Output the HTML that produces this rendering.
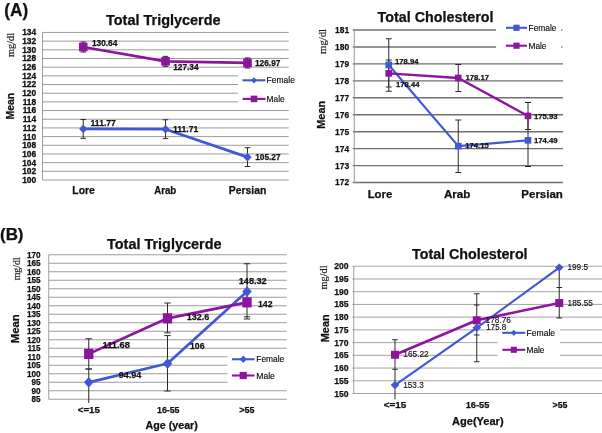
<!DOCTYPE html>
<html><head><meta charset="utf-8"><title>Figure</title>
<style>html,body{margin:0;padding:0;background:#fff}svg{display:block}</style></head>
<body><svg width="602" height="433" viewBox="0 0 602 433">
<rect width="602" height="433" fill="#fff"/>
<line x1="42.5" y1="180.00" x2="288.75" y2="180.00" stroke="#9c9c9c" stroke-width="1"/>
<line x1="42.5" y1="171.32" x2="288.75" y2="171.32" stroke="#9c9c9c" stroke-width="1"/>
<line x1="42.5" y1="162.64" x2="288.75" y2="162.64" stroke="#9c9c9c" stroke-width="1"/>
<line x1="42.5" y1="153.96" x2="288.75" y2="153.96" stroke="#9c9c9c" stroke-width="1"/>
<line x1="42.5" y1="145.28" x2="288.75" y2="145.28" stroke="#9c9c9c" stroke-width="1"/>
<line x1="42.5" y1="136.60" x2="288.75" y2="136.60" stroke="#9c9c9c" stroke-width="1"/>
<line x1="42.5" y1="127.92" x2="288.75" y2="127.92" stroke="#9c9c9c" stroke-width="1"/>
<line x1="42.5" y1="119.24" x2="288.75" y2="119.24" stroke="#9c9c9c" stroke-width="1"/>
<line x1="42.5" y1="110.56" x2="288.75" y2="110.56" stroke="#9c9c9c" stroke-width="1"/>
<line x1="42.5" y1="101.88" x2="288.75" y2="101.88" stroke="#9c9c9c" stroke-width="1"/>
<line x1="42.5" y1="93.20" x2="288.75" y2="93.20" stroke="#9c9c9c" stroke-width="1"/>
<line x1="42.5" y1="84.52" x2="288.75" y2="84.52" stroke="#9c9c9c" stroke-width="1"/>
<line x1="42.5" y1="75.84" x2="288.75" y2="75.84" stroke="#9c9c9c" stroke-width="1"/>
<line x1="42.5" y1="67.16" x2="288.75" y2="67.16" stroke="#9c9c9c" stroke-width="1"/>
<line x1="42.5" y1="58.48" x2="288.75" y2="58.48" stroke="#9c9c9c" stroke-width="1"/>
<line x1="42.5" y1="49.80" x2="288.75" y2="49.80" stroke="#9c9c9c" stroke-width="1"/>
<line x1="42.5" y1="41.12" x2="288.75" y2="41.12" stroke="#9c9c9c" stroke-width="1"/>
<line x1="42.5" y1="32.44" x2="288.75" y2="32.44" stroke="#9c9c9c" stroke-width="1"/>
<line x1="42.5" y1="32.44" x2="42.5" y2="180.0" stroke="#9c9c9c" stroke-width="1"/>
<text x="36.2" y="182.9" font-size="8.4" font-family="Liberation Sans, Arial, sans-serif" font-weight="bold" stroke="#111" stroke-width="0.3" text-anchor="end" fill="#111">100</text>
<text x="36.2" y="174.22" font-size="8.4" font-family="Liberation Sans, Arial, sans-serif" font-weight="bold" stroke="#111" stroke-width="0.3" text-anchor="end" fill="#111">102</text>
<text x="36.2" y="165.54" font-size="8.4" font-family="Liberation Sans, Arial, sans-serif" font-weight="bold" stroke="#111" stroke-width="0.3" text-anchor="end" fill="#111">104</text>
<text x="36.2" y="156.86" font-size="8.4" font-family="Liberation Sans, Arial, sans-serif" font-weight="bold" stroke="#111" stroke-width="0.3" text-anchor="end" fill="#111">106</text>
<text x="36.2" y="148.18" font-size="8.4" font-family="Liberation Sans, Arial, sans-serif" font-weight="bold" stroke="#111" stroke-width="0.3" text-anchor="end" fill="#111">108</text>
<text x="36.2" y="139.5" font-size="8.4" font-family="Liberation Sans, Arial, sans-serif" font-weight="bold" stroke="#111" stroke-width="0.3" text-anchor="end" fill="#111">110</text>
<text x="36.2" y="130.82" font-size="8.4" font-family="Liberation Sans, Arial, sans-serif" font-weight="bold" stroke="#111" stroke-width="0.3" text-anchor="end" fill="#111">112</text>
<text x="36.2" y="122.14000000000001" font-size="8.4" font-family="Liberation Sans, Arial, sans-serif" font-weight="bold" stroke="#111" stroke-width="0.3" text-anchor="end" fill="#111">114</text>
<text x="36.2" y="113.46000000000001" font-size="8.4" font-family="Liberation Sans, Arial, sans-serif" font-weight="bold" stroke="#111" stroke-width="0.3" text-anchor="end" fill="#111">116</text>
<text x="36.2" y="104.78" font-size="8.4" font-family="Liberation Sans, Arial, sans-serif" font-weight="bold" stroke="#111" stroke-width="0.3" text-anchor="end" fill="#111">118</text>
<text x="36.2" y="96.10000000000001" font-size="8.4" font-family="Liberation Sans, Arial, sans-serif" font-weight="bold" stroke="#111" stroke-width="0.3" text-anchor="end" fill="#111">120</text>
<text x="36.2" y="87.42000000000002" font-size="8.4" font-family="Liberation Sans, Arial, sans-serif" font-weight="bold" stroke="#111" stroke-width="0.3" text-anchor="end" fill="#111">122</text>
<text x="36.2" y="78.74000000000001" font-size="8.4" font-family="Liberation Sans, Arial, sans-serif" font-weight="bold" stroke="#111" stroke-width="0.3" text-anchor="end" fill="#111">124</text>
<text x="36.2" y="70.06" font-size="8.4" font-family="Liberation Sans, Arial, sans-serif" font-weight="bold" stroke="#111" stroke-width="0.3" text-anchor="end" fill="#111">126</text>
<text x="36.2" y="61.38" font-size="8.4" font-family="Liberation Sans, Arial, sans-serif" font-weight="bold" stroke="#111" stroke-width="0.3" text-anchor="end" fill="#111">128</text>
<text x="36.2" y="52.70000000000001" font-size="8.4" font-family="Liberation Sans, Arial, sans-serif" font-weight="bold" stroke="#111" stroke-width="0.3" text-anchor="end" fill="#111">130</text>
<text x="36.2" y="44.02" font-size="8.4" font-family="Liberation Sans, Arial, sans-serif" font-weight="bold" stroke="#111" stroke-width="0.3" text-anchor="end" fill="#111">132</text>
<text x="36.2" y="35.339999999999996" font-size="8.4" font-family="Liberation Sans, Arial, sans-serif" font-weight="bold" stroke="#111" stroke-width="0.3" text-anchor="end" fill="#111">134</text>
<text x="4.2" y="16.2" font-size="18" font-family="Liberation Sans, Arial, sans-serif" font-weight="bold" stroke="#111" stroke-width="0.25" textLength="24" lengthAdjust="spacingAndGlyphs" fill="#111">(A)</text>
<text x="106" y="25" font-size="14" font-family="Liberation Sans, Arial, sans-serif" font-weight="bold" stroke="#111" stroke-width="0.25" textLength="114.6" lengthAdjust="spacingAndGlyphs" fill="#111">Total Triglycerde</text>
<text x="13.9" y="119.4" font-size="10.4" font-family="Liberation Sans, Arial, sans-serif" font-weight="bold" stroke="#111" stroke-width="0.25" textLength="26.6" lengthAdjust="spacingAndGlyphs" transform="rotate(-90 13.9 119.4)" fill="#111">Mean</text>
<text x="14.1" y="56.9" font-size="10" font-family="Liberation Serif, Times New Roman, serif" textLength="24" lengthAdjust="spacingAndGlyphs" transform="rotate(-90 14.1 56.9)" stroke="#1e1e1e" stroke-width="0.2" fill="#1e1e1e">mg/dl</text>
<line x1="83.25" y1="119.51820000000001" x2="83.25" y2="138.31820000000002" stroke="#2a2a2a" stroke-width="1"/>
<line x1="80.45" y1="119.51820000000001" x2="86.05" y2="119.51820000000001" stroke="#2a2a2a" stroke-width="1"/>
<line x1="80.45" y1="138.31820000000002" x2="86.05" y2="138.31820000000002" stroke="#2a2a2a" stroke-width="1"/>
<line x1="165.5" y1="119.77860000000001" x2="165.5" y2="138.57860000000002" stroke="#2a2a2a" stroke-width="1"/>
<line x1="162.7" y1="119.77860000000001" x2="168.3" y2="119.77860000000001" stroke="#2a2a2a" stroke-width="1"/>
<line x1="162.7" y1="138.57860000000002" x2="168.3" y2="138.57860000000002" stroke="#2a2a2a" stroke-width="1"/>
<line x1="247.5" y1="147.72820000000002" x2="247.5" y2="166.52820000000003" stroke="#2a2a2a" stroke-width="1"/>
<line x1="244.7" y1="147.72820000000002" x2="250.3" y2="147.72820000000002" stroke="#2a2a2a" stroke-width="1"/>
<line x1="244.7" y1="166.52820000000003" x2="250.3" y2="166.52820000000003" stroke="#2a2a2a" stroke-width="1"/>
<line x1="83.25" y1="42.02240000000006" x2="83.25" y2="52.02240000000006" stroke="#2a2a2a" stroke-width="1"/>
<line x1="80.45" y1="42.02240000000006" x2="86.05" y2="42.02240000000006" stroke="#2a2a2a" stroke-width="1"/>
<line x1="80.45" y1="52.02240000000006" x2="86.05" y2="52.02240000000006" stroke="#2a2a2a" stroke-width="1"/>
<line x1="165.5" y1="56.34439999999999" x2="165.5" y2="66.3444" stroke="#2a2a2a" stroke-width="1"/>
<line x1="162.7" y1="56.34439999999999" x2="168.3" y2="56.34439999999999" stroke="#2a2a2a" stroke-width="1"/>
<line x1="162.7" y1="66.3444" x2="168.3" y2="66.3444" stroke="#2a2a2a" stroke-width="1"/>
<line x1="247.5" y1="57.95020000000001" x2="247.5" y2="67.95020000000001" stroke="#2a2a2a" stroke-width="1"/>
<line x1="244.7" y1="57.95020000000001" x2="250.3" y2="57.95020000000001" stroke="#2a2a2a" stroke-width="1"/>
<line x1="244.7" y1="67.95020000000001" x2="250.3" y2="67.95020000000001" stroke="#2a2a2a" stroke-width="1"/>
<polyline points="83.25,128.92 165.50,129.18 247.50,157.13" fill="none" stroke="#4258d2" stroke-width="2.7" stroke-linejoin="round"/>
<polyline points="83.25,47.02 165.50,61.34 247.50,62.95" fill="none" stroke="#8e149f" stroke-width="2.7" stroke-linejoin="round"/>
<polygon points="79.05,128.92 83.25,124.52 87.45,128.92 83.25,133.32" fill="#4258d2"/>
<polygon points="161.30,129.18 165.50,124.78 169.70,129.18 165.50,133.58" fill="#4258d2"/>
<polygon points="243.30,157.13 247.50,152.73 251.70,157.13 247.50,161.53" fill="#4258d2"/>
<rect x="78.95" y="42.72" width="8.6" height="8.6" fill="#8e149f"/>
<rect x="161.20" y="57.04" width="8.6" height="8.6" fill="#8e149f"/>
<rect x="243.20" y="58.65" width="8.6" height="8.6" fill="#8e149f"/>
<text x="91.9" y="46.25" font-size="8.8" font-family="Liberation Sans, Arial, sans-serif" font-weight="bold" stroke="#111" stroke-width="0.25" textLength="25.4" lengthAdjust="spacingAndGlyphs" fill="#111">130.64</text>
<text x="173.2" y="70.2" font-size="8.8" font-family="Liberation Sans, Arial, sans-serif" font-weight="bold" stroke="#111" stroke-width="0.25" textLength="25.4" lengthAdjust="spacingAndGlyphs" fill="#111">127.34</text>
<text x="255" y="66.25" font-size="8.8" font-family="Liberation Sans, Arial, sans-serif" font-weight="bold" stroke="#111" stroke-width="0.25" textLength="25.4" lengthAdjust="spacingAndGlyphs" fill="#111">126.97</text>
<text x="90.5" y="125.75" font-size="8.8" font-family="Liberation Sans, Arial, sans-serif" font-weight="bold" stroke="#111" stroke-width="0.25" textLength="25.4" lengthAdjust="spacingAndGlyphs" fill="#111">111.77</text>
<text x="172.9" y="132" font-size="8.8" font-family="Liberation Sans, Arial, sans-serif" font-weight="bold" stroke="#111" stroke-width="0.25" textLength="25.4" lengthAdjust="spacingAndGlyphs" fill="#111">111.71</text>
<text x="255.2" y="160" font-size="8.8" font-family="Liberation Sans, Arial, sans-serif" font-weight="bold" stroke="#111" stroke-width="0.25" textLength="25.4" lengthAdjust="spacingAndGlyphs" fill="#111">105.27</text>
<rect x="238" y="72" width="53" height="34" fill="#fff"/>
<line x1="242.5" y1="80.3" x2="265.5" y2="80.3" stroke="#4258d2" stroke-width="2.1"/>
<line x1="242.5" y1="98.9" x2="265.5" y2="98.9" stroke="#8e149f" stroke-width="2.1"/>
<polygon points="251.20,80.30 254.00,77.20 256.80,80.30 254.00,83.40" fill="#4258d2"/>
<rect x="250.70" y="95.60" width="6.6" height="6.6" fill="#8e149f"/>
<text x="266.6" y="83.3" font-size="8.4" font-family="Liberation Sans, Arial, sans-serif" fill="#000" stroke="#000" stroke-width="0.12" textLength="28.3" lengthAdjust="spacingAndGlyphs">Female</text>
<text x="266.6" y="101.9" font-size="8.4" font-family="Liberation Sans, Arial, sans-serif" fill="#000" stroke="#000" stroke-width="0.12" textLength="18" lengthAdjust="spacingAndGlyphs">Male</text>
<text x="83.6" y="193.75" font-size="10.3" font-family="Liberation Sans, Arial, sans-serif" font-weight="bold" stroke="#111" stroke-width="0.25" text-anchor="middle" textLength="22.6" lengthAdjust="spacingAndGlyphs" fill="#111">Lore</text>
<text x="165.25" y="193.75" font-size="10.2" font-family="Liberation Sans, Arial, sans-serif" font-weight="bold" stroke="#111" stroke-width="0.25" text-anchor="middle" textLength="22" lengthAdjust="spacingAndGlyphs" fill="#111">Arab</text>
<text x="247.5" y="193.75" font-size="10.2" font-family="Liberation Sans, Arial, sans-serif" font-weight="bold" stroke="#111" stroke-width="0.25" text-anchor="middle" textLength="37.5" lengthAdjust="spacingAndGlyphs" fill="#111">Persian</text>
<line x1="352.75" y1="148.65" x2="563" y2="148.65" stroke="#707070" stroke-width="1.4"/>
<line x1="352.75" y1="131.70" x2="563" y2="131.70" stroke="#707070" stroke-width="1.4"/>
<line x1="352.75" y1="114.75" x2="563" y2="114.75" stroke="#707070" stroke-width="1.4"/>
<line x1="352.75" y1="97.80" x2="563" y2="97.80" stroke="#707070" stroke-width="1.4"/>
<line x1="352.75" y1="80.85" x2="563" y2="80.85" stroke="#707070" stroke-width="1.4"/>
<line x1="352.75" y1="63.90" x2="563" y2="63.90" stroke="#707070" stroke-width="1.4"/>
<line x1="352.75" y1="182.55" x2="563" y2="182.55" stroke="#707070" stroke-width="1.4"/>
<line x1="352.75" y1="165.60" x2="563" y2="165.60" stroke="#707070" stroke-width="1.4"/>
<line x1="352.75" y1="46.95" x2="496" y2="46.95" stroke="#707070" stroke-width="1.4"/>
<line x1="352.75" y1="30.00" x2="496" y2="30.00" stroke="#707070" stroke-width="1.4"/>
<line x1="354.25" y1="30.0" x2="354.25" y2="182.54999999999998" stroke="#999" stroke-width="1"/>
<rect x="561" y="29.4" width="1.5" height="1.2" fill="#707070"/>
<rect x="561" y="46.4" width="1.5" height="1.2" fill="#707070"/>
<text x="349.1" y="185.45" font-size="8.4" font-family="Liberation Sans, Arial, sans-serif" font-weight="bold" stroke="#111" stroke-width="0.25" text-anchor="end" fill="#111">172</text>
<text x="349.1" y="168.5" font-size="8.4" font-family="Liberation Sans, Arial, sans-serif" font-weight="bold" stroke="#111" stroke-width="0.25" text-anchor="end" fill="#111">173</text>
<text x="349.1" y="151.54999999999998" font-size="8.4" font-family="Liberation Sans, Arial, sans-serif" font-weight="bold" stroke="#111" stroke-width="0.25" text-anchor="end" fill="#111">174</text>
<text x="349.1" y="134.6" font-size="8.4" font-family="Liberation Sans, Arial, sans-serif" font-weight="bold" stroke="#111" stroke-width="0.25" text-anchor="end" fill="#111">175</text>
<text x="349.1" y="117.65" font-size="8.4" font-family="Liberation Sans, Arial, sans-serif" font-weight="bold" stroke="#111" stroke-width="0.25" text-anchor="end" fill="#111">176</text>
<text x="349.1" y="100.7" font-size="8.4" font-family="Liberation Sans, Arial, sans-serif" font-weight="bold" stroke="#111" stroke-width="0.25" text-anchor="end" fill="#111">177</text>
<text x="349.1" y="83.75" font-size="8.4" font-family="Liberation Sans, Arial, sans-serif" font-weight="bold" stroke="#111" stroke-width="0.25" text-anchor="end" fill="#111">178</text>
<text x="349.1" y="66.8" font-size="8.4" font-family="Liberation Sans, Arial, sans-serif" font-weight="bold" stroke="#111" stroke-width="0.25" text-anchor="end" fill="#111">179</text>
<text x="349.1" y="49.85" font-size="8.4" font-family="Liberation Sans, Arial, sans-serif" font-weight="bold" stroke="#111" stroke-width="0.25" text-anchor="end" fill="#111">180</text>
<text x="349.1" y="32.9" font-size="8.4" font-family="Liberation Sans, Arial, sans-serif" font-weight="bold" stroke="#111" stroke-width="0.25" text-anchor="end" fill="#111">181</text>
<text x="377.6" y="22.3" font-size="14.3" font-family="Liberation Sans, Arial, sans-serif" font-weight="bold" stroke="#111" stroke-width="0.25" textLength="116" lengthAdjust="spacingAndGlyphs" fill="#111">Total Cholesterol</text>
<text x="325" y="128.7" font-size="10.6" font-family="Liberation Sans, Arial, sans-serif" font-weight="bold" stroke="#111" stroke-width="0.25" textLength="27.8" lengthAdjust="spacingAndGlyphs" transform="rotate(-90 325 128.7)" fill="#111">Mean</text>
<text x="326.5" y="53.9" font-size="10" font-family="Liberation Serif, Times New Roman, serif" textLength="25" lengthAdjust="spacingAndGlyphs" transform="rotate(-90 326.5 53.9)" stroke="#1e1e1e" stroke-width="0.2" fill="#1e1e1e">mg/dl</text>
<line x1="388.75" y1="38.75" x2="388.75" y2="87" stroke="#2a2a2a" stroke-width="1"/>
<line x1="385.75" y1="38.75" x2="391.75" y2="38.75" stroke="#2a2a2a" stroke-width="1"/>
<line x1="385.75" y1="87" x2="391.75" y2="87" stroke="#2a2a2a" stroke-width="1"/>
<line x1="388.75" y1="60" x2="388.75" y2="91.25" stroke="#2a2a2a" stroke-width="1"/>
<line x1="385.75" y1="60" x2="391.75" y2="60" stroke="#2a2a2a" stroke-width="1"/>
<line x1="385.75" y1="91.25" x2="391.75" y2="91.25" stroke="#2a2a2a" stroke-width="1"/>
<line x1="458.25" y1="120" x2="458.25" y2="172.5" stroke="#2a2a2a" stroke-width="1"/>
<line x1="455.25" y1="120" x2="461.25" y2="120" stroke="#2a2a2a" stroke-width="1"/>
<line x1="455.25" y1="172.5" x2="461.25" y2="172.5" stroke="#2a2a2a" stroke-width="1"/>
<line x1="458.25" y1="64.5" x2="458.25" y2="91.5" stroke="#2a2a2a" stroke-width="1"/>
<line x1="455.25" y1="64.5" x2="461.25" y2="64.5" stroke="#2a2a2a" stroke-width="1"/>
<line x1="455.25" y1="91.5" x2="461.25" y2="91.5" stroke="#2a2a2a" stroke-width="1"/>
<line x1="528" y1="114.5" x2="528" y2="166.5" stroke="#2a2a2a" stroke-width="1"/>
<line x1="525.0" y1="114.5" x2="531.0" y2="114.5" stroke="#2a2a2a" stroke-width="1"/>
<line x1="525.0" y1="166.5" x2="531.0" y2="166.5" stroke="#2a2a2a" stroke-width="1"/>
<line x1="528" y1="102.5" x2="528" y2="129.5" stroke="#2a2a2a" stroke-width="1"/>
<line x1="525.0" y1="102.5" x2="531.0" y2="102.5" stroke="#2a2a2a" stroke-width="1"/>
<line x1="525.0" y1="129.5" x2="531.0" y2="129.5" stroke="#2a2a2a" stroke-width="1"/>
<polyline points="388.75,64.92 458.25,146.11 528.00,140.34" fill="none" stroke="#4258d2" stroke-width="2.2" stroke-linejoin="round"/>
<polyline points="388.75,73.39 458.25,77.97 528.00,115.94" fill="none" stroke="#8e149f" stroke-width="2.4" stroke-linejoin="round"/>
<rect x="385.45" y="61.62" width="6.6" height="6.6" fill="#4258d2"/>
<rect x="454.95" y="142.81" width="6.6" height="6.6" fill="#4258d2"/>
<rect x="524.70" y="137.04" width="6.6" height="6.6" fill="#4258d2"/>
<rect x="385.45" y="70.09" width="6.6" height="6.6" fill="#8e149f"/>
<rect x="454.95" y="74.67" width="6.6" height="6.6" fill="#8e149f"/>
<rect x="524.70" y="112.64" width="6.6" height="6.6" fill="#8e149f"/>
<text x="395" y="63.9" font-size="7.9" font-family="Liberation Sans, Arial, sans-serif" font-weight="bold" stroke="#111" stroke-width="0.25" textLength="23.5" lengthAdjust="spacingAndGlyphs" fill="#111">178.94</text>
<text x="396" y="87.4" font-size="7.9" font-family="Liberation Sans, Arial, sans-serif" font-weight="bold" stroke="#111" stroke-width="0.25" textLength="23.5" lengthAdjust="spacingAndGlyphs" fill="#111">178.44</text>
<text x="465.5" y="79.9" font-size="7.9" font-family="Liberation Sans, Arial, sans-serif" font-weight="bold" stroke="#111" stroke-width="0.25" textLength="23.5" lengthAdjust="spacingAndGlyphs" fill="#111">178.17</text>
<text x="465.3" y="148.3" font-size="7.9" font-family="Liberation Sans, Arial, sans-serif" font-weight="bold" stroke="#111" stroke-width="0.25" textLength="23.5" lengthAdjust="spacingAndGlyphs" fill="#111">174.15</text>
<text x="534" y="118.5" font-size="7.9" font-family="Liberation Sans, Arial, sans-serif" font-weight="bold" stroke="#111" stroke-width="0.25" textLength="23.5" lengthAdjust="spacingAndGlyphs" fill="#111">175.93</text>
<text x="534" y="143" font-size="7.9" font-family="Liberation Sans, Arial, sans-serif" font-weight="bold" stroke="#111" stroke-width="0.25" textLength="23.5" lengthAdjust="spacingAndGlyphs" fill="#111">174.49</text>
<line x1="506" y1="27.8" x2="527" y2="27.8" stroke="#4258d2" stroke-width="2.1"/>
<line x1="506" y1="45.7" x2="527" y2="45.7" stroke="#8e149f" stroke-width="2.1"/>
<rect x="513.40" y="24.70" width="6.2" height="6.2" fill="#4258d2"/>
<rect x="513.40" y="42.60" width="6.2" height="6.2" fill="#8e149f"/>
<text x="528.5" y="30.8" font-size="8.8" font-family="Liberation Sans, Arial, sans-serif" fill="#000" stroke="#000" stroke-width="0.12" textLength="28" lengthAdjust="spacingAndGlyphs">Female</text>
<text x="528.5" y="48.7" font-size="8.8" font-family="Liberation Sans, Arial, sans-serif" fill="#000" stroke="#000" stroke-width="0.12" textLength="18" lengthAdjust="spacingAndGlyphs">Male</text>
<text x="380" y="197.5" font-size="10.5" font-family="Liberation Sans, Arial, sans-serif" font-weight="bold" stroke="#111" stroke-width="0.25" text-anchor="middle" textLength="24.6" lengthAdjust="spacingAndGlyphs" fill="#111">Lore</text>
<text x="457.2" y="197.9" font-size="10.5" font-family="Liberation Sans, Arial, sans-serif" font-weight="bold" stroke="#111" stroke-width="0.25" text-anchor="middle" textLength="26.5" lengthAdjust="spacingAndGlyphs" fill="#111">Arab</text>
<text x="542.1" y="197.5" font-size="10.5" font-family="Liberation Sans, Arial, sans-serif" font-weight="bold" stroke="#111" stroke-width="0.25" text-anchor="middle" textLength="41.5" lengthAdjust="spacingAndGlyphs" fill="#111">Persian</text>
<line x1="48.75" y1="399.25" x2="286.75" y2="399.25" stroke="#9c9c9c" stroke-width="1"/>
<line x1="48.75" y1="390.75" x2="286.75" y2="390.75" stroke="#9c9c9c" stroke-width="1"/>
<line x1="48.75" y1="382.25" x2="286.75" y2="382.25" stroke="#9c9c9c" stroke-width="1"/>
<line x1="48.75" y1="373.75" x2="286.75" y2="373.75" stroke="#9c9c9c" stroke-width="1"/>
<line x1="48.75" y1="365.25" x2="286.75" y2="365.25" stroke="#9c9c9c" stroke-width="1"/>
<line x1="48.75" y1="356.75" x2="286.75" y2="356.75" stroke="#9c9c9c" stroke-width="1"/>
<line x1="48.75" y1="348.25" x2="286.75" y2="348.25" stroke="#9c9c9c" stroke-width="1"/>
<line x1="48.75" y1="339.75" x2="286.75" y2="339.75" stroke="#9c9c9c" stroke-width="1"/>
<line x1="48.75" y1="331.25" x2="286.75" y2="331.25" stroke="#9c9c9c" stroke-width="1"/>
<line x1="48.75" y1="322.75" x2="286.75" y2="322.75" stroke="#9c9c9c" stroke-width="1"/>
<line x1="48.75" y1="314.25" x2="286.75" y2="314.25" stroke="#9c9c9c" stroke-width="1"/>
<line x1="48.75" y1="305.75" x2="286.75" y2="305.75" stroke="#9c9c9c" stroke-width="1"/>
<line x1="48.75" y1="297.25" x2="286.75" y2="297.25" stroke="#9c9c9c" stroke-width="1"/>
<line x1="48.75" y1="288.75" x2="286.75" y2="288.75" stroke="#9c9c9c" stroke-width="1"/>
<line x1="48.75" y1="280.25" x2="286.75" y2="280.25" stroke="#9c9c9c" stroke-width="1"/>
<line x1="48.75" y1="271.75" x2="286.75" y2="271.75" stroke="#9c9c9c" stroke-width="1"/>
<line x1="48.75" y1="263.25" x2="286.75" y2="263.25" stroke="#9c9c9c" stroke-width="1"/>
<line x1="48.75" y1="254.75" x2="286.75" y2="254.75" stroke="#9c9c9c" stroke-width="1"/>
<line x1="48.75" y1="254.75" x2="48.75" y2="399.25" stroke="#9c9c9c" stroke-width="1"/>
<text x="40.6" y="402.15" font-size="8.2" font-family="Liberation Sans, Arial, sans-serif" font-weight="bold" stroke="#111" stroke-width="0.25" text-anchor="end" fill="#111">85</text>
<text x="40.6" y="393.65" font-size="8.2" font-family="Liberation Sans, Arial, sans-serif" font-weight="bold" stroke="#111" stroke-width="0.25" text-anchor="end" fill="#111">90</text>
<text x="40.6" y="385.15" font-size="8.2" font-family="Liberation Sans, Arial, sans-serif" font-weight="bold" stroke="#111" stroke-width="0.25" text-anchor="end" fill="#111">95</text>
<text x="40.6" y="376.65" font-size="8.2" font-family="Liberation Sans, Arial, sans-serif" font-weight="bold" stroke="#111" stroke-width="0.25" text-anchor="end" fill="#111">100</text>
<text x="40.6" y="368.15" font-size="8.2" font-family="Liberation Sans, Arial, sans-serif" font-weight="bold" stroke="#111" stroke-width="0.25" text-anchor="end" fill="#111">105</text>
<text x="40.6" y="359.65" font-size="8.2" font-family="Liberation Sans, Arial, sans-serif" font-weight="bold" stroke="#111" stroke-width="0.25" text-anchor="end" fill="#111">110</text>
<text x="40.6" y="351.15" font-size="8.2" font-family="Liberation Sans, Arial, sans-serif" font-weight="bold" stroke="#111" stroke-width="0.25" text-anchor="end" fill="#111">115</text>
<text x="40.6" y="342.65" font-size="8.2" font-family="Liberation Sans, Arial, sans-serif" font-weight="bold" stroke="#111" stroke-width="0.25" text-anchor="end" fill="#111">120</text>
<text x="40.6" y="334.15" font-size="8.2" font-family="Liberation Sans, Arial, sans-serif" font-weight="bold" stroke="#111" stroke-width="0.25" text-anchor="end" fill="#111">125</text>
<text x="40.6" y="325.65" font-size="8.2" font-family="Liberation Sans, Arial, sans-serif" font-weight="bold" stroke="#111" stroke-width="0.25" text-anchor="end" fill="#111">130</text>
<text x="40.6" y="317.15" font-size="8.2" font-family="Liberation Sans, Arial, sans-serif" font-weight="bold" stroke="#111" stroke-width="0.25" text-anchor="end" fill="#111">135</text>
<text x="40.6" y="308.65" font-size="8.2" font-family="Liberation Sans, Arial, sans-serif" font-weight="bold" stroke="#111" stroke-width="0.25" text-anchor="end" fill="#111">140</text>
<text x="40.6" y="300.15" font-size="8.2" font-family="Liberation Sans, Arial, sans-serif" font-weight="bold" stroke="#111" stroke-width="0.25" text-anchor="end" fill="#111">145</text>
<text x="40.6" y="291.65" font-size="8.2" font-family="Liberation Sans, Arial, sans-serif" font-weight="bold" stroke="#111" stroke-width="0.25" text-anchor="end" fill="#111">150</text>
<text x="40.6" y="283.15" font-size="8.2" font-family="Liberation Sans, Arial, sans-serif" font-weight="bold" stroke="#111" stroke-width="0.25" text-anchor="end" fill="#111">155</text>
<text x="40.6" y="274.65" font-size="8.2" font-family="Liberation Sans, Arial, sans-serif" font-weight="bold" stroke="#111" stroke-width="0.25" text-anchor="end" fill="#111">160</text>
<text x="40.6" y="266.15" font-size="8.2" font-family="Liberation Sans, Arial, sans-serif" font-weight="bold" stroke="#111" stroke-width="0.25" text-anchor="end" fill="#111">165</text>
<text x="40.6" y="257.65" font-size="8.2" font-family="Liberation Sans, Arial, sans-serif" font-weight="bold" stroke="#111" stroke-width="0.25" text-anchor="end" fill="#111">170</text>
<text x="0" y="240" font-size="16.5" font-family="Liberation Sans, Arial, sans-serif" font-weight="bold" stroke="#111" stroke-width="0.25" textLength="23.5" lengthAdjust="spacingAndGlyphs" fill="#111">(B)</text>
<text x="107" y="248.75" font-size="14" font-family="Liberation Sans, Arial, sans-serif" font-weight="bold" stroke="#111" stroke-width="0.25" textLength="114.5" lengthAdjust="spacingAndGlyphs" fill="#111">Total Triglycerde</text>
<text x="19.4" y="343.3" font-size="11" font-family="Liberation Sans, Arial, sans-serif" font-weight="bold" stroke="#111" stroke-width="0.25" textLength="29" lengthAdjust="spacingAndGlyphs" transform="rotate(-90 19.4 343.3)" fill="#111">Mean</text>
<text x="20.3" y="280.3" font-size="10" font-family="Liberation Serif, Times New Roman, serif" textLength="23" lengthAdjust="spacingAndGlyphs" transform="rotate(-90 20.3 280.3)" stroke="#1e1e1e" stroke-width="0.2" fill="#1e1e1e">mg/dl</text>
<line x1="88.75" y1="338.75" x2="88.75" y2="369" stroke="#2a2a2a" stroke-width="1"/>
<line x1="85.55" y1="338.75" x2="91.95" y2="338.75" stroke="#2a2a2a" stroke-width="1"/>
<line x1="85.55" y1="369" x2="91.95" y2="369" stroke="#2a2a2a" stroke-width="1"/>
<line x1="88.75" y1="369" x2="88.75" y2="403" stroke="#2a2a2a" stroke-width="1"/>
<line x1="85.55" y1="369" x2="91.95" y2="369" stroke="#2a2a2a" stroke-width="1"/>
<line x1="167.5" y1="303" x2="167.5" y2="332.8" stroke="#2a2a2a" stroke-width="1"/>
<line x1="164.3" y1="303" x2="170.7" y2="303" stroke="#2a2a2a" stroke-width="1"/>
<line x1="164.3" y1="332.8" x2="170.7" y2="332.8" stroke="#2a2a2a" stroke-width="1"/>
<line x1="167.5" y1="335.6" x2="167.5" y2="391" stroke="#2a2a2a" stroke-width="1"/>
<line x1="164.3" y1="335.6" x2="170.7" y2="335.6" stroke="#2a2a2a" stroke-width="1"/>
<line x1="164.3" y1="391" x2="170.7" y2="391" stroke="#2a2a2a" stroke-width="1"/>
<line x1="247" y1="263.75" x2="247" y2="319" stroke="#2a2a2a" stroke-width="1"/>
<line x1="243.8" y1="263.75" x2="250.2" y2="263.75" stroke="#2a2a2a" stroke-width="1"/>
<line x1="243.8" y1="319" x2="250.2" y2="319" stroke="#2a2a2a" stroke-width="1"/>
<line x1="243.8" y1="316.8" x2="250.2" y2="316.8" stroke="#2a2a2a" stroke-width="1"/>
<polyline points="88.75,382.35 167.50,363.55 247.00,291.61" fill="none" stroke="#4258d2" stroke-width="2.7" stroke-linejoin="round"/>
<polyline points="88.75,353.89 167.50,318.33 247.00,302.35" fill="none" stroke="#8e149f" stroke-width="2.7" stroke-linejoin="round"/>
<polygon points="84.00,382.35 88.75,376.95 93.50,382.35 88.75,387.75" fill="#4258d2"/>
<polygon points="162.75,363.55 167.50,358.15 172.25,363.55 167.50,368.95" fill="#4258d2"/>
<polygon points="242.25,291.61 247.00,286.21 251.75,291.61 247.00,297.01" fill="#4258d2"/>
<rect x="84.10" y="348.79" width="9.3" height="10.2" fill="#8e149f"/>
<rect x="162.85" y="313.23" width="9.3" height="10.2" fill="#8e149f"/>
<rect x="242.35" y="297.25" width="9.3" height="10.2" fill="#8e149f"/>
<text x="102.5" y="348.1" font-size="9.1" font-family="Liberation Sans, Arial, sans-serif" font-weight="bold" stroke="#111" stroke-width="0.25" textLength="27.5" lengthAdjust="spacingAndGlyphs" fill="#111">111.68</text>
<text x="118.75" y="377.7" font-size="9.1" font-family="Liberation Sans, Arial, sans-serif" font-weight="bold" stroke="#111" stroke-width="0.25" textLength="22.5" lengthAdjust="spacingAndGlyphs" fill="#111">94.94</text>
<text x="186.75" y="320" font-size="9.1" font-family="Liberation Sans, Arial, sans-serif" font-weight="bold" stroke="#111" stroke-width="0.25" textLength="22.5" lengthAdjust="spacingAndGlyphs" fill="#111">132.6</text>
<text x="190" y="349.25" font-size="9.1" font-family="Liberation Sans, Arial, sans-serif" font-weight="bold" stroke="#111" stroke-width="0.25" textLength="14.5" lengthAdjust="spacingAndGlyphs" fill="#111">106</text>
<text x="238.8" y="283.75" font-size="9.1" font-family="Liberation Sans, Arial, sans-serif" font-weight="bold" stroke="#111" stroke-width="0.25" textLength="27.9" lengthAdjust="spacingAndGlyphs" fill="#111">148.32</text>
<text x="258" y="306.75" font-size="9.1" font-family="Liberation Sans, Arial, sans-serif" font-weight="bold" stroke="#111" stroke-width="0.25" textLength="14.5" lengthAdjust="spacingAndGlyphs" fill="#111">142</text>
<rect x="227.5" y="352" width="60.5" height="34.5" fill="#fff"/>
<line x1="232" y1="359.25" x2="254.5" y2="359.25" stroke="#4258d2" stroke-width="2.1"/>
<line x1="232" y1="375.5" x2="254.5" y2="375.5" stroke="#8e149f" stroke-width="2.1"/>
<polygon points="239.75,359.25 243.25,355.45 246.75,359.25 243.25,363.05" fill="#4258d2"/>
<rect x="239.65" y="371.90" width="7.2" height="7.2" fill="#8e149f"/>
<text x="256.25" y="362.25" font-size="8.6" font-family="Liberation Sans, Arial, sans-serif" fill="#000" stroke="#000" stroke-width="0.12" textLength="28" lengthAdjust="spacingAndGlyphs">Female</text>
<text x="256.25" y="378.5" font-size="8.6" font-family="Liberation Sans, Arial, sans-serif" fill="#000" stroke="#000" stroke-width="0.12">Male</text>
<text x="88.75" y="413.2" font-size="9" font-family="Liberation Sans, Arial, sans-serif" font-weight="bold" stroke="#111" stroke-width="0.25" text-anchor="middle" textLength="22" lengthAdjust="spacingAndGlyphs" fill="#111">&lt;=15</text>
<text x="168.25" y="413.2" font-size="9" font-family="Liberation Sans, Arial, sans-serif" font-weight="bold" stroke="#111" stroke-width="0.25" text-anchor="middle" textLength="22.5" lengthAdjust="spacingAndGlyphs" fill="#111">16-55</text>
<text x="246.9" y="413.2" font-size="9" font-family="Liberation Sans, Arial, sans-serif" font-weight="bold" stroke="#111" stroke-width="0.25" text-anchor="middle" textLength="15.25" lengthAdjust="spacingAndGlyphs" fill="#111">&gt;55</text>
<text x="145.5" y="429.2" font-size="10.6" font-family="Liberation Sans, Arial, sans-serif" font-weight="bold" stroke="#111" stroke-width="0.25" textLength="52.3" lengthAdjust="spacingAndGlyphs" fill="#111">Age (year)</text>
<line x1="352.25" y1="393.50" x2="602" y2="393.50" stroke="#a4a4a4" stroke-width="1"/>
<line x1="352.25" y1="380.77" x2="602" y2="380.77" stroke="#a4a4a4" stroke-width="1"/>
<line x1="352.25" y1="368.05" x2="602" y2="368.05" stroke="#a4a4a4" stroke-width="1"/>
<line x1="352.25" y1="317.15" x2="602" y2="317.15" stroke="#a4a4a4" stroke-width="1"/>
<line x1="352.25" y1="304.43" x2="602" y2="304.43" stroke="#a4a4a4" stroke-width="1"/>
<line x1="352.25" y1="291.70" x2="602" y2="291.70" stroke="#a4a4a4" stroke-width="1"/>
<line x1="352.25" y1="278.98" x2="602" y2="278.98" stroke="#a4a4a4" stroke-width="1"/>
<line x1="352.25" y1="266.25" x2="602" y2="266.25" stroke="#a4a4a4" stroke-width="1"/>
<line x1="352.25" y1="355.32" x2="497.5" y2="355.32" stroke="#a4a4a4" stroke-width="1"/>
<line x1="352.25" y1="342.60" x2="497.5" y2="342.60" stroke="#a4a4a4" stroke-width="1"/>
<line x1="352.25" y1="329.88" x2="497.5" y2="329.88" stroke="#a4a4a4" stroke-width="1"/>
<line x1="560" y1="355.32" x2="602" y2="355.32" stroke="#a4a4a4" stroke-width="1"/>
<line x1="560" y1="342.60" x2="602" y2="342.60" stroke="#a4a4a4" stroke-width="1"/>
<line x1="560" y1="329.88" x2="602" y2="329.88" stroke="#a4a4a4" stroke-width="1"/>
<line x1="353.75" y1="266.25" x2="353.75" y2="393.5" stroke="#9c9c9c" stroke-width="1"/>
<text x="348.6" y="396.5" font-size="8.6" font-family="Liberation Sans, Arial, sans-serif" font-weight="bold" stroke="#111" stroke-width="0.25" text-anchor="end" fill="#111">150</text>
<text x="348.6" y="383.775" font-size="8.6" font-family="Liberation Sans, Arial, sans-serif" font-weight="bold" stroke="#111" stroke-width="0.25" text-anchor="end" fill="#111">155</text>
<text x="348.6" y="371.05" font-size="8.6" font-family="Liberation Sans, Arial, sans-serif" font-weight="bold" stroke="#111" stroke-width="0.25" text-anchor="end" fill="#111">160</text>
<text x="348.6" y="358.325" font-size="8.6" font-family="Liberation Sans, Arial, sans-serif" font-weight="bold" stroke="#111" stroke-width="0.25" text-anchor="end" fill="#111">165</text>
<text x="348.6" y="345.6" font-size="8.6" font-family="Liberation Sans, Arial, sans-serif" font-weight="bold" stroke="#111" stroke-width="0.25" text-anchor="end" fill="#111">170</text>
<text x="348.6" y="332.875" font-size="8.6" font-family="Liberation Sans, Arial, sans-serif" font-weight="bold" stroke="#111" stroke-width="0.25" text-anchor="end" fill="#111">175</text>
<text x="348.6" y="320.15" font-size="8.6" font-family="Liberation Sans, Arial, sans-serif" font-weight="bold" stroke="#111" stroke-width="0.25" text-anchor="end" fill="#111">180</text>
<text x="348.6" y="307.425" font-size="8.6" font-family="Liberation Sans, Arial, sans-serif" font-weight="bold" stroke="#111" stroke-width="0.25" text-anchor="end" fill="#111">185</text>
<text x="348.6" y="294.7" font-size="8.6" font-family="Liberation Sans, Arial, sans-serif" font-weight="bold" stroke="#111" stroke-width="0.25" text-anchor="end" fill="#111">190</text>
<text x="348.6" y="281.975" font-size="8.6" font-family="Liberation Sans, Arial, sans-serif" font-weight="bold" stroke="#111" stroke-width="0.25" text-anchor="end" fill="#111">195</text>
<text x="348.6" y="269.25" font-size="8.6" font-family="Liberation Sans, Arial, sans-serif" font-weight="bold" stroke="#111" stroke-width="0.25" text-anchor="end" fill="#111">200</text>
<text x="412" y="259.25" font-size="14.3" font-family="Liberation Sans, Arial, sans-serif" font-weight="bold" stroke="#111" stroke-width="0.25" textLength="115.6" lengthAdjust="spacingAndGlyphs" fill="#111">Total Cholesterol</text>
<text x="329.2" y="342.2" font-size="10.9" font-family="Liberation Sans, Arial, sans-serif" font-weight="bold" stroke="#111" stroke-width="0.25" textLength="27.8" lengthAdjust="spacingAndGlyphs" transform="rotate(-90 329.2 342.2)" fill="#111">Mean</text>
<text x="327" y="289.4" font-size="10" font-family="Liberation Serif, Times New Roman, serif" textLength="24" lengthAdjust="spacingAndGlyphs" transform="rotate(-90 327 289.4)" stroke="#1e1e1e" stroke-width="0.2" fill="#1e1e1e">mg/dl</text>
<line x1="395" y1="339.75" x2="395" y2="399.25" stroke="#2a2a2a" stroke-width="1"/>
<line x1="392.2" y1="339.75" x2="397.8" y2="339.75" stroke="#2a2a2a" stroke-width="1"/>
<line x1="392.2" y1="369.25" x2="397.8" y2="369.25" stroke="#2a2a2a" stroke-width="1"/>
<line x1="476.75" y1="293.75" x2="476.75" y2="361.75" stroke="#2a2a2a" stroke-width="1"/>
<line x1="473.95" y1="293.75" x2="479.55" y2="293.75" stroke="#2a2a2a" stroke-width="1"/>
<line x1="473.95" y1="361.75" x2="479.55" y2="361.75" stroke="#2a2a2a" stroke-width="1"/>
<line x1="473.95" y1="305" x2="479.55" y2="305" stroke="#2a2a2a" stroke-width="1"/>
<line x1="473.95" y1="335" x2="479.55" y2="335" stroke="#2a2a2a" stroke-width="1"/>
<line x1="559.25" y1="267.5" x2="559.25" y2="318" stroke="#2a2a2a" stroke-width="1"/>
<line x1="556.45" y1="318" x2="562.05" y2="318" stroke="#2a2a2a" stroke-width="1"/>
<line x1="556.45" y1="287.5" x2="562.05" y2="287.5" stroke="#2a2a2a" stroke-width="1"/>
<polyline points="395.00,385.10 476.75,327.84 559.25,267.52" fill="none" stroke="#4258d2" stroke-width="2.15" stroke-linejoin="round"/>
<polyline points="395.00,354.77 476.75,320.31 559.25,303.03" fill="none" stroke="#8e149f" stroke-width="2.6" stroke-linejoin="round"/>
<polygon points="390.70,385.10 395.00,381.00 399.30,385.10 395.00,389.20" fill="#4258d2"/>
<polygon points="472.45,327.84 476.75,323.74 481.05,327.84 476.75,331.94" fill="#4258d2"/>
<polygon points="554.95,267.52 559.25,263.42 563.55,267.52 559.25,271.62" fill="#4258d2"/>
<rect x="391.00" y="350.77" width="8" height="8" fill="#8e149f"/>
<rect x="472.75" y="316.31" width="8" height="8" fill="#8e149f"/>
<rect x="555.25" y="299.03" width="8" height="8" fill="#8e149f"/>
<text x="403.25" y="356.75" font-size="8.8" font-family="Liberation Sans, Arial, sans-serif" textLength="25.5" lengthAdjust="spacingAndGlyphs" fill="#111" stroke="#111" stroke-width="0.15">165.22</text>
<text x="403.25" y="387.5" font-size="8.8" font-family="Liberation Sans, Arial, sans-serif" textLength="20.5" lengthAdjust="spacingAndGlyphs" fill="#111" stroke="#111" stroke-width="0.15">153.3</text>
<text x="485.6" y="322.5" font-size="8.8" font-family="Liberation Sans, Arial, sans-serif" textLength="25.3" lengthAdjust="spacingAndGlyphs" fill="#111" stroke="#111" stroke-width="0.15">178.76</text>
<text x="486.25" y="330" font-size="8.8" font-family="Liberation Sans, Arial, sans-serif" textLength="20" lengthAdjust="spacingAndGlyphs" fill="#111" stroke="#111" stroke-width="0.15">175.8</text>
<text x="567.5" y="270" font-size="8.8" font-family="Liberation Sans, Arial, sans-serif" textLength="20.5" lengthAdjust="spacingAndGlyphs" fill="#111" stroke="#111" stroke-width="0.15">199.5</text>
<text x="567.5" y="305.5" font-size="8.8" font-family="Liberation Sans, Arial, sans-serif" textLength="25.5" lengthAdjust="spacingAndGlyphs" fill="#111" stroke="#111" stroke-width="0.15">185.55</text>
<line x1="502.3" y1="332.8" x2="525.3" y2="332.8" stroke="#4258d2" stroke-width="2.1"/>
<line x1="502.3" y1="349.8" x2="525.3" y2="349.8" stroke="#8e149f" stroke-width="2.1"/>
<polygon points="511.00,332.80 513.80,329.70 516.60,332.80 513.80,335.90" fill="#4258d2"/>
<rect x="510.75" y="346.75" width="6.1" height="6.1" fill="#8e149f"/>
<text x="526.5" y="335.7" font-size="8.7" font-family="Liberation Sans, Arial, sans-serif" fill="#000" stroke="#000" stroke-width="0.12" textLength="28.6" lengthAdjust="spacingAndGlyphs">Female</text>
<text x="526.5" y="352.7" font-size="8.7" font-family="Liberation Sans, Arial, sans-serif" fill="#000" stroke="#000" stroke-width="0.12" textLength="18" lengthAdjust="spacingAndGlyphs">Male</text>
<text x="395" y="408.2" font-size="9" font-family="Liberation Sans, Arial, sans-serif" font-weight="bold" stroke="#111" stroke-width="0.25" text-anchor="middle" textLength="22.5" lengthAdjust="spacingAndGlyphs" fill="#111">&lt;=15</text>
<text x="477.5" y="408.2" font-size="9" font-family="Liberation Sans, Arial, sans-serif" font-weight="bold" stroke="#111" stroke-width="0.25" text-anchor="middle" textLength="23.5" lengthAdjust="spacingAndGlyphs" fill="#111">16-55</text>
<text x="560" y="408.2" font-size="9" font-family="Liberation Sans, Arial, sans-serif" font-weight="bold" stroke="#111" stroke-width="0.25" text-anchor="middle" textLength="15" lengthAdjust="spacingAndGlyphs" fill="#111">&gt;55</text>
<text x="452" y="425" font-size="10.6" font-family="Liberation Sans, Arial, sans-serif" font-weight="bold" stroke="#111" stroke-width="0.25" textLength="51.6" lengthAdjust="spacingAndGlyphs" fill="#111">Age(Year)</text>
</svg></body></html>
